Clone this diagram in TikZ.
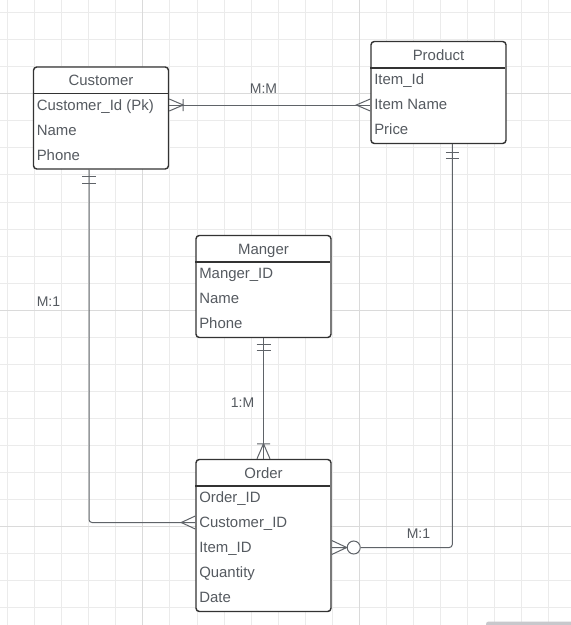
\documentclass[tikz,border=0pt]{standalone}
\usepackage{fontspec}
\setmainfont{Liberation Sans}
\usetikzlibrary{positioning}
\pgfdeclarelayer{gridlayer}
\pgfsetlayers{gridlayer,main}
\definecolor{boxline}{HTML}{333333}
\definecolor{txtgray}{HTML}{555A60}
\definecolor{linegray}{HTML}{5F6368}
\definecolor{gridminor}{HTML}{EBEBEB}
\definecolor{gridmajor}{HTML}{DADADA}
\definecolor{barfill}{HTML}{C8C8CC}
\tikzstyle{tbl}=[draw=boxline, fill=white, line width=1.1pt, rounded corners=2.5pt, minimum width=101.25pt, inner sep=0pt]
\tikzstyle{hline}=[draw=boxline, line width=1.1pt]
\tikzstyle{hdr}=[text=txtgray, font=\fontsize{11.2}{13}\selectfont, inner sep=0pt, text height=8pt, text depth=0pt]
\tikzstyle{fld}=[hdr, anchor=west]
\tikzstyle{conn}=[draw=linegray, line width=0.75pt]
\tikzstyle{card}=[text=txtgray, font=\fontsize{10.5}{12}\selectfont, inner sep=0pt, text height=7.5pt, text depth=0pt]
\tikzstyle{zeroc}=[circle, draw=linegray, fill=white, line width=0.75pt, minimum size=9.75pt, inner sep=0pt]
\tikzstyle{gridln}=[draw=gridminor, line width=0.6pt]
\tikzstyle{gridmj}=[draw=gridmajor, line width=0.6pt]

\begin{document}
\begin{tikzpicture}[x=0.75pt, y=-0.75pt]
\useasboundingbox (0,0) rectangle (571,625);
\begin{pgfonlayer}{gridlayer}
\fill[white] (0,0) rectangle (571,625);
\foreach \i in {0,...,21} \draw[gridln] (7.5+27.06*\i,0) -- ++(0,625);
\foreach \j in {0,...,22} \draw[gridln] (0,12.5+27.06*\j) -- ++(571,0);
\foreach \i in {5,13,21} \draw[gridmj] (7.5+27.06*\i,0) -- ++(0,625);
\foreach \j in {3,11,19} \draw[gridmj] (0,12.5+27.06*\j) -- ++(571,0);
\end{pgfonlayer}
\fill[barfill, rounded corners=2pt] (486,621.5) rectangle (580,632);

\node[tbl, minimum height=76.5pt] (cust) at (101,118) {};
\draw[hline] (cust.north west) ++(0,27) -- ++(135,0);
\node[hdr] (custh) at (101,80.5) {Customer};
\node[fld] (custid) at (36.5,105) {Customer\_Id (Pk)};
\node[fld] (custname) at (36.5,130) {Name};
\node[fld] (custphone) at (36.5,155) {Phone};

\node[tbl, minimum height=76.5pt] (prod) at (438.5,92.5) {};
\draw[hline] (prod.north west) ++(0,27) -- ++(135,0);
\node[hdr] (prodh) at (438.5,55) {Product};
\node[fld] (pid) at (374,79.5) {Item\_Id};
\node[fld] (pname) at (374,104.5) {Item Name};
\node[fld] (pprice) at (374,129.5) {Price};

\node[tbl, minimum height=76.5pt] (mgr) at (263.5,286.5) {};
\draw[hline] (mgr.north west) ++(0,27) -- ++(135,0);
\node[hdr] (mgrh) at (263.5,249) {Manger};
\node[fld] (mid) at (199,273.5) {Manger\_ID};
\node[fld] (mname) at (199,298.5) {Name};
\node[fld] (mphone) at (199,323.5) {Phone};

\node[tbl, minimum height=114pt] (ord) at (263.5,535.5) {};
\draw[hline] (ord.north west) ++(0,27) -- ++(135,0);
\node[hdr] (ordh) at (263.5,473) {Order};
\node[fld] (oid) at (199,497.5) {Order\_ID};
\node[fld] (ocust) at (199,522.5) {Customer\_ID};
\node[fld] (oitem) at (199,547.5) {Item\_ID};
\node[fld] (oqty) at (199,572.5) {Quantity};
\node[fld] (odate) at (199,597.5) {Date};

\draw[conn] (cust.east |- custid.west) -- (prod.west |- custid.west);
\draw[conn] (cust.east |- custid.west) ++(0,-6) -- ++(14,6) -- ++(-14,6) ++(14,-12) -- ++(0,12);
\draw[conn] (prod.west |- custid.west) ++(0,-6) -- ++(-14,6) -- ++(14,6);
\node[card] (mmlbl) at (263.5,88) {M:M};

\coordinate (custfoot) at ([xshift=-9pt]cust.south);
\draw[conn, rounded corners=2.25pt] (custfoot) |- (ord.west |- ocust.west);
\draw[conn] (custfoot) ++(-7,7) -- ++(14,0) ++(-14,7) -- ++(14,0);
\draw[conn] (ord.west |- ocust.west) ++(0,-6.5) -- ++(-14,6.5) -- ++(14,6.5);
\node[card] (custlbl) at (48.5,301) {M:1};

\draw[conn] (mgr.south) -- (ord.north);
\draw[conn] (mgr.south) ++(-7,6) -- ++(14,0) ++(-14,6.5) -- ++(14,0);
\draw[conn] (ord.north) ++(-6.5,0) -- ++(6.5,-15) -- ++(6.5,15) ++(-13,-15) -- ++(13,0);
\node[card] (mgrlbl) at (242.5,402) {1:M};

\coordinate (prodfoot) at ([xshift=10.35pt]prod.south);
\coordinate (oitemR) at (ord.east |- oitem.west);
\node[zeroc, right=11.25pt of oitemR] (zero) {};
\draw[conn, rounded corners=2.25pt] (zero.east) -| (prodfoot);
\draw[conn] (zero.west) -- (oitemR) (zero.west) -- ++(-15,-7) (zero.west) -- ++(-15,7);
\draw[conn] (prodfoot) ++(-6.5,8) -- ++(13,0) ++(-13,6) -- ++(13,0);
\node[card] (prodlbl) at (418.5,533.5) {M:1};
\end{tikzpicture}
\end{document}
